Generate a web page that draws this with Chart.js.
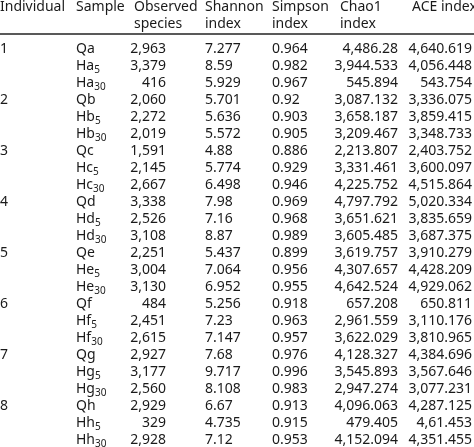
<!DOCTYPE html>
<html>
<head>
<meta charset="utf-8">
<script src="https://cdn.jsdelivr.net/npm/chart.js@4/dist/chart.umd.min.js"></script>
<style>
  html, body { margin: 0; padding: 0; background: #fff; }
  #wrap { width: 474px; height: 447px; }
</style>
</head>
<body>
<div id="wrap"><canvas id="table"></canvas></div>
<script>
const headers = [["Individual"], ["Sample"], ["Observed", "species"], ["Shannon", "index"], ["Simpson", "index"], ["Chao1", "index"], ["ACE index"]];
const individuals = ["1", "2", "3", "4", "5", "6", "7", "8"];
const sampleBase = ["Qa","Ha","Ha","Qb","Hb","Hb","Qc","Hc","Hc","Qd","Hd","Hd","Qe","He","He","Qf","Hf","Hf","Qg","Hg","Hg","Qh","Hh","Hh"];
const sampleSub = ["","5","30","","5","30","","5","30","","5","30","","5","30","","5","30","","5","30","","5","30"];
const observed = ["2,963","3,379","416","2,060","2,272","2,019","1,591","2,145","2,667","3,338","2,526","3,108","2,251","3,004","3,130","484","2,451","2,615","2,927","3,177","2,560","2,929","329","2,928"];
const shannon = ["7.277","8.59","5.929","5.701","5.636","5.572","4.88","5.774","6.498","7.98","7.16","8.87","5.437","7.064","6.952","5.256","7.23","7.147","7.68","9.717","8.108","6.67","4.735","7.12"];
const simpson = ["0.964","0.982","0.967","0.92","0.903","0.905","0.886","0.929","0.946","0.969","0.968","0.989","0.899","0.956","0.955","0.918","0.963","0.957","0.976","0.996","0.983","0.913","0.915","0.953"];
const chao1 = ["4,486.28","3,944.533","545.894","3,087.132","3,658.187","3,209.467","2,213.807","3,331.461","4,225.752","4,797.792","3,651.621","3,605.485","3,619.757","4,307.657","4,642.524","657.208","2,961.559","3,622.029","4,128.327","3,545.893","2,947.274","4,096.063","479.405","4,152.094"];
const ace = ["4,640.619","4,056.448","543.754","3,336.075","3,859.415","3,348.733","2,403.752","3,600.097","4,515.864","5,020.334","3,835.659","3,687.375","3,910.279","4,428.209","4,929.062","650.811","3,110.176","3,810.965","4,384.696","3,567.646","3,077.231","4,287.125","4,61.453","4,351.455"];

const FONT = '"Noto Sans", sans-serif';
const ROW0 = 49, ROW_H = 17;
// column anchors: [x, align]
const cols = [[0,"left"],[76,"left"],[166,"right"],[205,"left"],[272,"left"],[398,"right"],[472,"right"]];
const headerCols = [0, 76, 134, 205, 272, 340, 412];

const tablePlugin = {
  id: "tableText",
  afterDraw(chart) {
    const { ctx, scales: { x, y } } = chart;
    ctx.save();
    ctx.fillStyle = "#1a1a1a";
    ctx.textBaseline = "middle";
    ctx.font = "14px " + FONT;
    headers.forEach((lines, c) => {
      lines.forEach((t, i) => {
        ctx.textAlign = "left";
        ctx.fillText(t, x.getPixelForValue(headerCols[c]), y.getPixelForValue(7 + i * 17));
      });
    });
    ctx.strokeStyle = "#222";
    ctx.lineWidth = 1.5;
    ctx.beginPath();
    ctx.moveTo(x.getPixelForValue(0), y.getPixelForValue(34));
    ctx.lineTo(x.getPixelForValue(474), y.getPixelForValue(34));
    ctx.stroke();
    const colData = [null, null, observed, shannon, simpson, chao1, ace];
    for (let r = 0; r < sampleBase.length; r++) {
      const py = y.getPixelForValue(ROW0 + r * ROW_H);
      if (r % 3 === 0) {
        ctx.textAlign = "left";
        ctx.fillText(individuals[r / 3], x.getPixelForValue(cols[0][0]), py);
      }
      ctx.textAlign = "left";
      const sx = x.getPixelForValue(cols[1][0]);
      ctx.fillText(sampleBase[r], sx, py);
      if (sampleSub[r]) {
        const w = ctx.measureText(sampleBase[r]).width;
        ctx.font = "10px " + FONT;
        ctx.fillText(sampleSub[r], sx + w, py + 4);
        ctx.font = "14px " + FONT;
      }
      for (let c = 2; c < cols.length; c++) {
        ctx.textAlign = cols[c][1];
        ctx.fillText(colData[c][r], x.getPixelForValue(cols[c][0]), py);
      }
    }
    ctx.restore();
  }
};

new Chart(document.getElementById("table"), {
  type: "scatter",
  data: { datasets: [{ data: [], pointRadius: 0 }] },
  options: {
    responsive: true,
    maintainAspectRatio: false,
    animation: false,
    layout: { padding: 0 },
    plugins: { legend: { display: false }, tooltip: { enabled: false } },
    scales: {
      x: { type: "linear", min: 0, max: 474, display: false },
      y: { type: "linear", min: 0, max: 447, reverse: true, display: false }
    }
  },
  plugins: [tablePlugin]
});
</script>
</body>
</html>
